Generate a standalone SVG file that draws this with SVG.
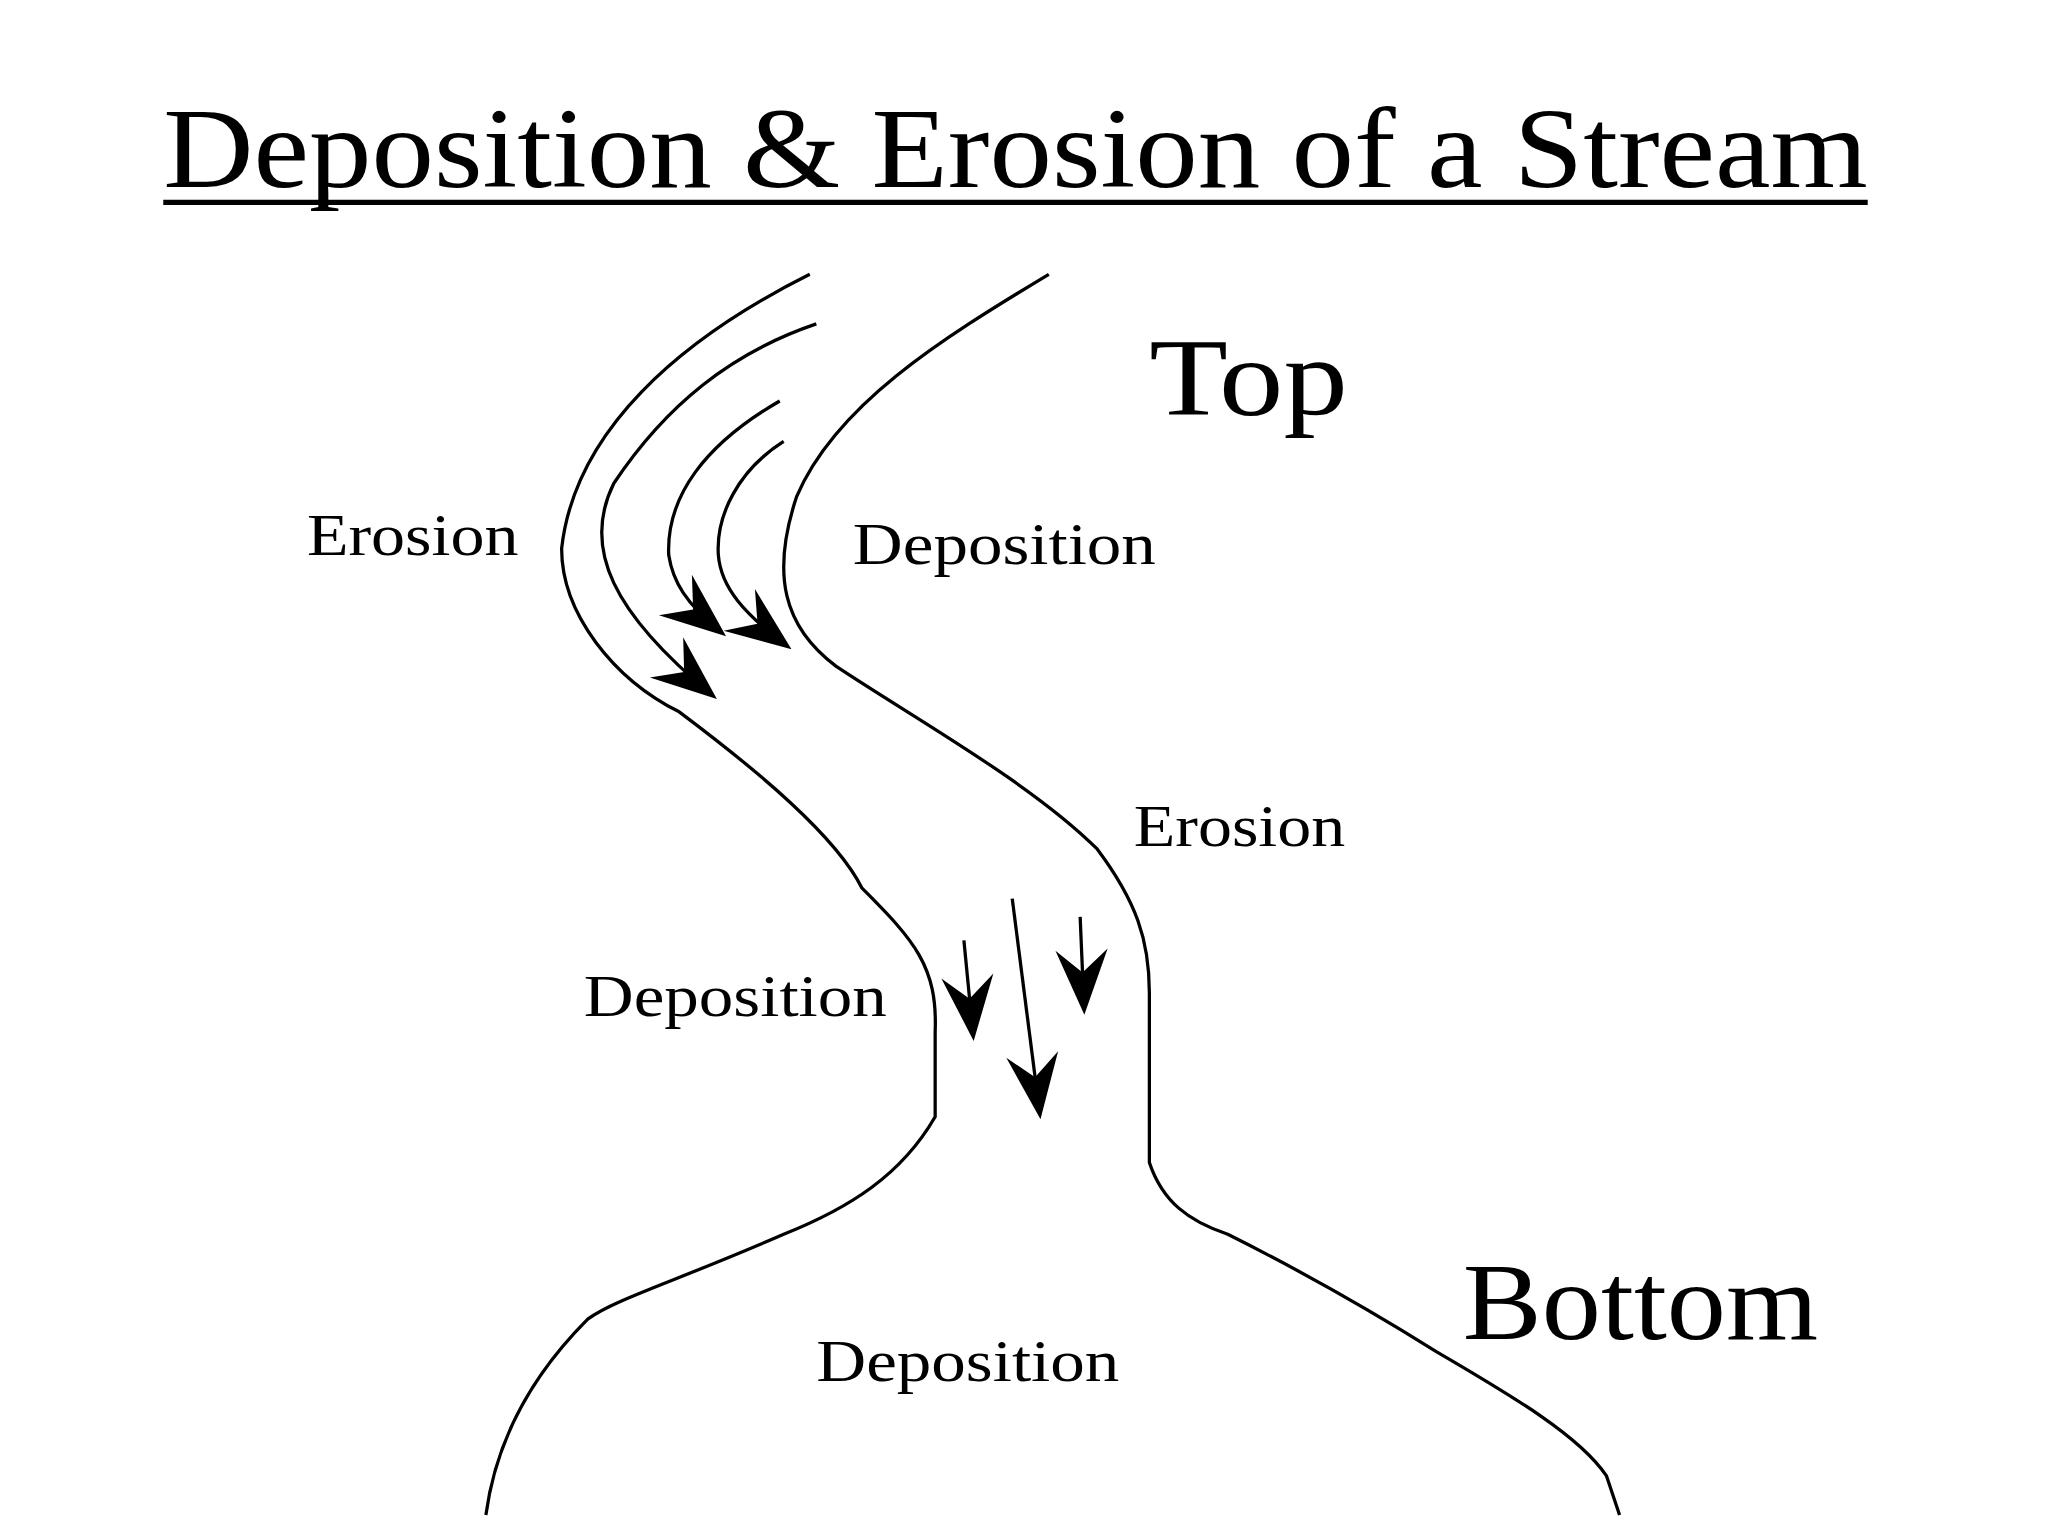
<svg xmlns="http://www.w3.org/2000/svg" width="2048" height="1536" viewBox="0 0 2048 1536">
<style>
.bank{fill:none;stroke:#000;stroke-width:2.5}
.flow{fill:none;stroke:#000;stroke-width:2.5}
.lbl{font-family:"Liberation Serif",serif;fill:#000}
</style>
<defs>
<marker id="ah" viewBox="0 0 20 20" refX="18" refY="10" markerWidth="50" markerHeight="50" markerUnits="userSpaceOnUse" orient="auto">
<path d="M0,2 L20,10 L0,18 L7,10 Z" fill="#000"/>
</marker>
</defs>
<rect width="2048" height="1536" fill="#fff"/>
<g transform="scale(1.3061)">
<g id="title">
<text class="lbl" x="125" y="143" font-size="88" textLength="1305" lengthAdjust="spacingAndGlyphs">Deposition &amp; Erosion of a Stream</text>
<line x1="125" y1="155" x2="1430" y2="155" stroke="#000" stroke-width="4"/>
</g>
<g id="banks">
<path class="bank" d="M620,210 C520,260 440,330 430,420 C430,470 470,520 520,545 C580,590 640,640 660,680 C700,720 718,740 716,790 L716,855 C690,900 650,925 600,945 C520,980 470,995 450,1010 C410,1050 380,1100 372,1160"/>
<path class="bank" d="M803,210 C720,260 640,310 610,380 C590,440 600,480 640,510 C700,550 790,600 840,650 C870,690 880,720 880,760 L880,890 C890,920 910,935 940,945 C1010,980 1060,1010 1100,1035 C1160,1070 1210,1100 1230,1130 L1240,1160"/>
</g>
<g id="connectors">
<path class="flow" marker-end="url(#ah)" d="M625,248 C560,270 510,310 470,370 C445,420 470,470 545,532"/>
<path class="flow" marker-end="url(#ah)" d="M597,307 C540,340 510,380 512,425 C515,445 525,462 552,484"/>
<path class="flow" marker-end="url(#ah)" d="M600,338 C565,360 548,395 550,425 C552,450 570,470 602,494"/>
<path class="flow" marker-end="url(#ah)" d="M738,720 L745,792"/>
<path class="flow" marker-end="url(#ah)" d="M775,688 L796,852"/>
<path class="flow" marker-end="url(#ah)" d="M827,702 L830,772"/>
</g>
<g id="labels">
<text class="lbl" x="235" y="425" font-size="46" textLength="162" lengthAdjust="spacingAndGlyphs">Erosion</text>
<text class="lbl" x="653" y="432" font-size="46" textLength="232" lengthAdjust="spacingAndGlyphs">Deposition</text>
<text class="lbl" x="880" y="318" font-size="84" textLength="152" lengthAdjust="spacingAndGlyphs">Top</text>
<text class="lbl" x="868" y="648" font-size="46" textLength="162" lengthAdjust="spacingAndGlyphs">Erosion</text>
<text class="lbl" x="447" y="778" font-size="46" textLength="232" lengthAdjust="spacingAndGlyphs">Deposition</text>
<text class="lbl" x="1120" y="1025" font-size="84" textLength="272" lengthAdjust="spacingAndGlyphs">Bottom</text>
<text class="lbl" x="625" y="1057" font-size="46" textLength="232" lengthAdjust="spacingAndGlyphs">Deposition</text>
</g>
</g>
</svg>
